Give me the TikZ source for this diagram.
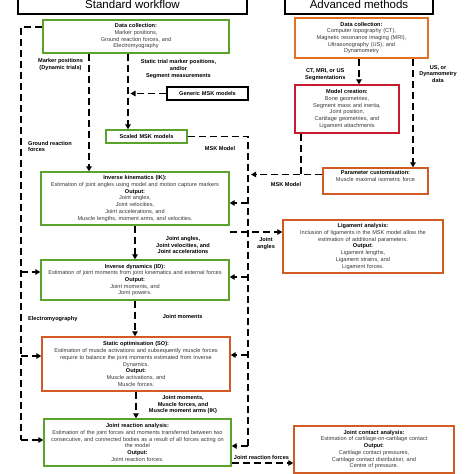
\documentclass[tikz,border=0pt]{standalone}
\usepackage{fontspec}
\setmainfont{Liberation Sans}
\usetikzlibrary{arrows.meta,calc}
\definecolor{sgreen}{RGB}{92,163,45}
\definecolor{aorange}{RGB}{210,90,35}
\definecolor{dorange}{RGB}{226,112,38}
\definecolor{mred}{RGB}{198,28,48}
\definecolor{btext}{RGB}{55,55,55}
\newcommand{\bodyf}{\fontsize{5.6}{6.7}\selectfont}
\newcommand{\labf}{\fontsize{5.6}{6.8}\selectfont\bfseries}
\newcommand{\hd}[1]{\textcolor{black}{\bfseries #1}}
\begin{document}
\begin{tikzpicture}[x=1pt,y=-1pt,
  box/.style={draw, line width=1.4pt, inner sep=1pt, align=center, font=\bodyf, text=btext},
  ttl/.style={draw, line width=1.5pt, inner sep=0pt, font=\fontsize{11.5}{13}\selectfont},
  lab/.style={font=\labf, align=center, inner sep=0pt},
  dl/.style={line width=1.8pt, dash pattern=on 7pt off 4pt},
  dla/.style={dl, -{Triangle[width=5.5pt,length=5pt]}}
]
\useasboundingbox (0,0) rectangle (474,474);
\clip (0,0) rectangle (474,474);

% titles
\node[ttl, minimum width=229, minimum height=20] (tstd) at (132.5,4) {Standard workflow};
\node[ttl, minimum width=148, minimum height=20] (tadv) at (359,4) {Advanced methods};

% boxes
\node[box, draw=sgreen, text width=184, minimum height=33] (dcs) at (136,36.5)
  {\hd{Data collection:}\\Marker positions,\\Ground reaction forces, and\\Electromyography};
\node[box, draw=dorange, text width=131, minimum height=40] (dca) at (361.5,38)
  {\hd{Data collection:}\\Computer topography (CT),\\Magnetic resonance imaging (MRI),\\Ultrasonography (US), and\\Dynamometry};
\node[box, draw=mred, text width=102, minimum height=48] (mc) at (347,109)
  {\hd{Model creation:}\\Bone geometries,\\Segment mass and inertia,\\Joint position,\\Cartilage geometries, and\\Ligament attachments};
\node[box, draw=black, text width=79, minimum height=13, font=\labf, text=black] (gen) at (207.5,93.5) {Generic MSK models};
\node[box, draw=sgreen, text width=79, minimum height=13, font=\labf, text=black] (scl) at (146.5,136.5) {Scaled MSK models};
\node[box, draw=sgreen, text width=186, minimum height=53] (ik) at (135,198.5)
  {\hd{Inverse kinematics (IK):}\\Estimation of joint angles using model and motion capture markers\\\hd{Output:}\\Joint angles,\\Joint velocities,\\Joint accelerations, and\\Muscle lengths, moment arms, and velocities.};
\node[box, draw=aorange, text width=103, minimum height=26] (par) at (375.5,181)
  {\parbox[c][23pt][t]{103pt}{\centering\vspace*{1.2pt}\hd{Parameter customisation:}\\Muscle maximal isometric force}};
\node[box, draw=aorange, text width=158, minimum height=53] (lig) at (363,246.5)
  {\hd{Ligament analysis:}\\Inclusion of ligaments in the MSK model allow the\\estimation of additional parameters.\\\hd{Output:}\\Ligament lengths,\\Ligament strains, and\\Ligament forces.};
\node[box, draw=sgreen, text width=186, minimum height=40] (id) at (135,280)
  {\hd{Inverse dynamics (ID):}\\Estimation of joint moments from joint kinematics and external forces\\\hd{Output:}\\Joint moments, and\\Joint powers.};
\node[box, draw=aorange, text width=186, minimum height=54] (so) at (136,364)
  {\hd{Static optimisation (SO):}\\Estimation of muscle activations and subsequently muscle forces\\require to balance the joint moments estimated from Inverse\\Dynamics.\\\hd{Output:}\\Muscle activations, and\\Muscle forces.};
\node[box, draw=sgreen, text width=185, minimum height=47] (jra) at (137.5,442.5)
  {\hd{Joint reaction analysis:}\\Estimation of the joint forces and moments transferred between two\\consecutive, and connected bodies as a result of all forces acting on\\the model\\\hd{Output:}\\Joint reaction forces.};
\node[box, draw=aorange, text width=158, minimum height=47] (jca) at (374,449.5)
  {\hd{Joint contact analysis:}\\Estimation of cartilage-on-cartilage contact\\\hd{Output:}\\Cartilage contact pressures,\\Cartilage contact distribution, and\\Centre of pressure.};

% left outer line (ground reaction forces / EMG)
\coordinate (gT) at (21,27);
\coordinate (gID) at (21,272);
\coordinate (gSO) at (21,356);
\coordinate (gJR) at (21,440);
\draw[dl] (dcs.west |- gT) -- (gT) -- (gJR);
\draw[dla] (gID) -- (id.west |- gID);
\draw[dla] (gSO) -- (so.west |- gSO);
\draw[dla] (gJR) -- (jra.west |- gJR);

% marker positions and static trial
\coordinate (mX) at (89,0);
\coordinate (sX) at (128,0);
\draw[dla] (dcs.south -| mX) -- (ik.north -| mX);
\draw[dla] (dcs.south -| sX) -- (scl.north -| sX);
\draw[dla, shorten >=2.5pt] (gen.west) -- (gen.west -| sX);

% MSK model right line
\coordinate (rT) at (248,136.5);
\coordinate (rIK) at (248,203);
\coordinate (rID) at (248,277);
\coordinate (rSO) at (248,355);
\coordinate (rJR) at (248,446);
\draw[dl] (scl.east) -- (rT) -- (rJR);
\draw[dla] (rIK) -- (ik.east |- rIK);
\draw[dla] (rID) -- (id.east |- rID);
\draw[dla] (rSO) -- (so.east |- rSO);
\draw[dla] (rJR) -- (jra.east |- rJR);

% advanced side
\coordinate (mY) at (301,174.5);
\coordinate (mskIn) at (251,174.5);
\draw[dl] (mc.south -| mY) -- (mY);
\draw[dla] (par.west |- mY) -- (mskIn);
\coordinate (cX) at (359,0);
\coordinate (uX) at (413,0);
\draw[dla] (dca.south -| cX) -- (mc.north -| cX);
\draw[dla] (dca.south -| uX) -- (par.north -| uX);

% main chain
\draw[dla] (ik.south) -- (ik.south |- id.north);
\coordinate (lS) at (230,232);
\draw[dla] (lS) -- (lig.west |- lS);
\draw[dla] (id.south) -- (id.south |- so.north);
\draw[dla] (so.south) -- (so.south |- jra.north);
\coordinate (jY) at (0,463);
\draw[dla] (jra.east |- jY) -- (jca.west |- jY);

% labels
\node[lab] (lmp) at (60.5,64.8) {Marker positions\\(Dynamic trials)};
\node[lab] (lst) at (178.5,69.2) {Static trial marker positions,\\and/or\\Segment measurements};
\node[lab, align=left, anchor=west] (lgr) at (28,146.5) {Ground reaction\\forces};
\node[lab, anchor=west] (lem) at (28,319) {Electromyography};
\node[lab] (lmsk1) at (220,148) {MSK Model};
\node[lab] (lmsk2) at (286,184.7) {MSK Model};
\node[lab] (lct) at (325.3,74.5) {CT, MRI, or US\\Segmentations};
\node[lab] (lus) at (438,74) {US, or\\Dynamometry\\data};
\node[lab] (ljk) at (183,245) {Joint angles,\\Joint velocities, and\\Joint accelerations};
\node[lab] (lja) at (266,243.5) {Joint\\angles};
\node[lab] (ljm) at (182.7,316) {Joint moments};
\node[lab] (ljmm) at (183,404.7) {Joint moments,\\Muscle forces, and\\Muscle moment arms (IK)};
\node[lab] (ljr) at (261.5,457.3) {Joint reaction forces};
\end{tikzpicture}
\end{document}
